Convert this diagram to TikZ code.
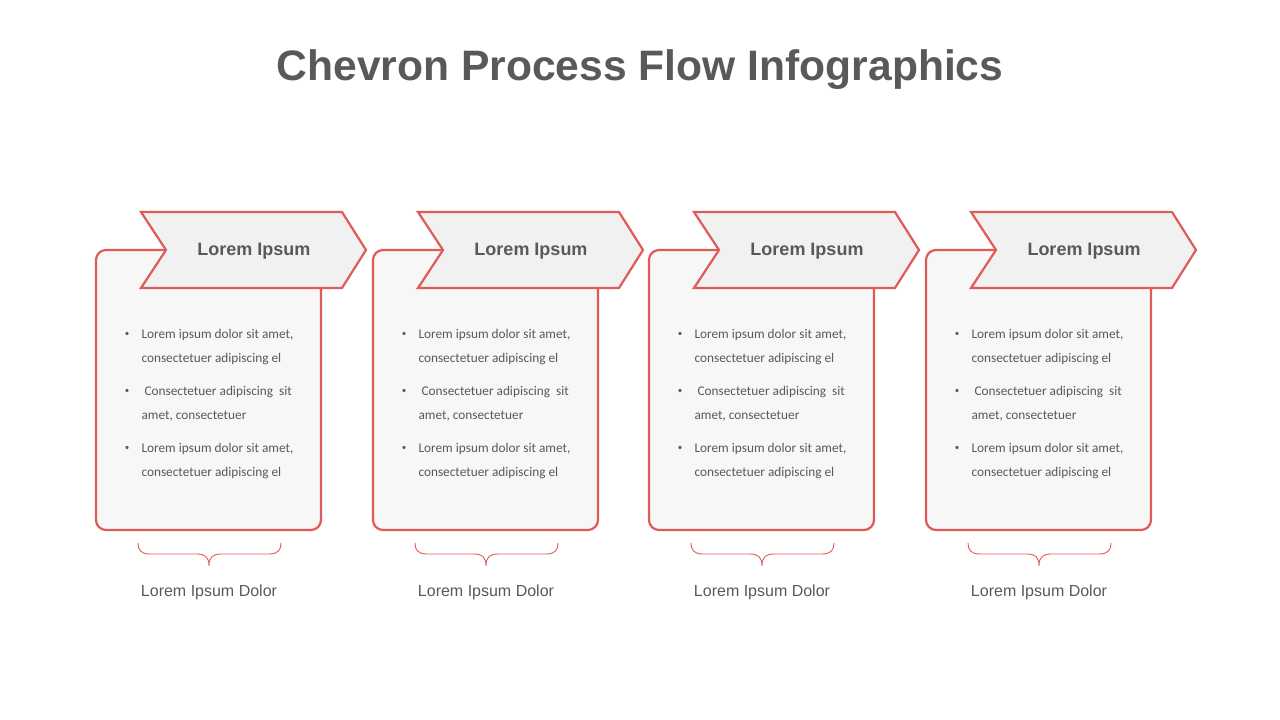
\documentclass[tikz,border=0pt]{standalone}
\usepackage{fontspec}
\setmainfont{Liberation Sans}
\newfontfamily\bodyfont{Carlito}
\usepackage{tikz}
\definecolor{redline}{HTML}{E05A57}
\definecolor{greytext}{HTML}{595959}
\definecolor{cardfill}{HTML}{F7F7F7}
\definecolor{chevfill}{HTML}{F1F1F1}

\begin{document}
\begin{tikzpicture}[x=1pt, y=-1pt,
  card/.style={draw=redline, line width=2.2pt, fill=cardfill, rounded corners=10pt},
  chev/.style={draw=redline, line width=2.2pt, fill=chevfill, line join=miter},
  brace/.style={draw=redline, line width=0.9pt},
  item/.style={anchor=west, text=greytext, font=\bodyfont\fontsize{13.3}{15}\selectfont},
  dot/.style={text=greytext, font=\bodyfont\fontsize{9}{10}\selectfont}]
\useasboundingbox (0,0) rectangle (1280,720);

\node (title) at (640,70) [text=greytext, font=\bfseries\fontsize{42.6}{50}\selectfont] {Chevron Process Flow Infographics};

\foreach \dx/\n in {0/a, 277/b, 553/c, 830/d} {
\begin{scope}[xshift=\dx pt]
\draw[card] (96,250) rectangle (321,530);
\draw[chev] (141,212) -- (342,212) -- (366,250) -- (342,288) -- (141,288) -- (166,250) -- cycle;
\node (head\n) at (254,251) [text=greytext, font=\bfseries\fontsize{18}{20}\selectfont] {Lorem Ipsum};
% bullets
\node[dot] at (127,334) {\textbullet};
\node[item] (l1\n) at (138,335) {Lorem ipsum dolor sit amet,};
\node[item] at (138,359) {consectetuer adipiscing el};
\node[dot] at (127,391) {\textbullet};
\node[item] (l2\n) at (138,392) {\ Consectetuer adipiscing\ \ sit};
\node[item] at (138,416) {amet, consectetuer};
\node[dot] at (127,448) {\textbullet};
\node[item] (l3\n) at (138,449) {Lorem ipsum dolor sit amet,};
\node[item] at (138,473) {consectetuer adipiscing el};
% brace
\draw[brace] (138,543) .. controls (138,550) and (141,554) .. (150,554) -- (197,554)
  .. controls (205,554) and (209,557) .. (209,566)
  .. controls (209,557) and (213,554) .. (221,554) -- (269,554)
  .. controls (278,554) and (281,550) .. (281,543);
\node (foot\n) at (209,592) [text=greytext, font=\fontsize{16}{18}\selectfont] {Lorem Ipsum Dolor};
\end{scope}
}
\end{tikzpicture}
\end{document}
